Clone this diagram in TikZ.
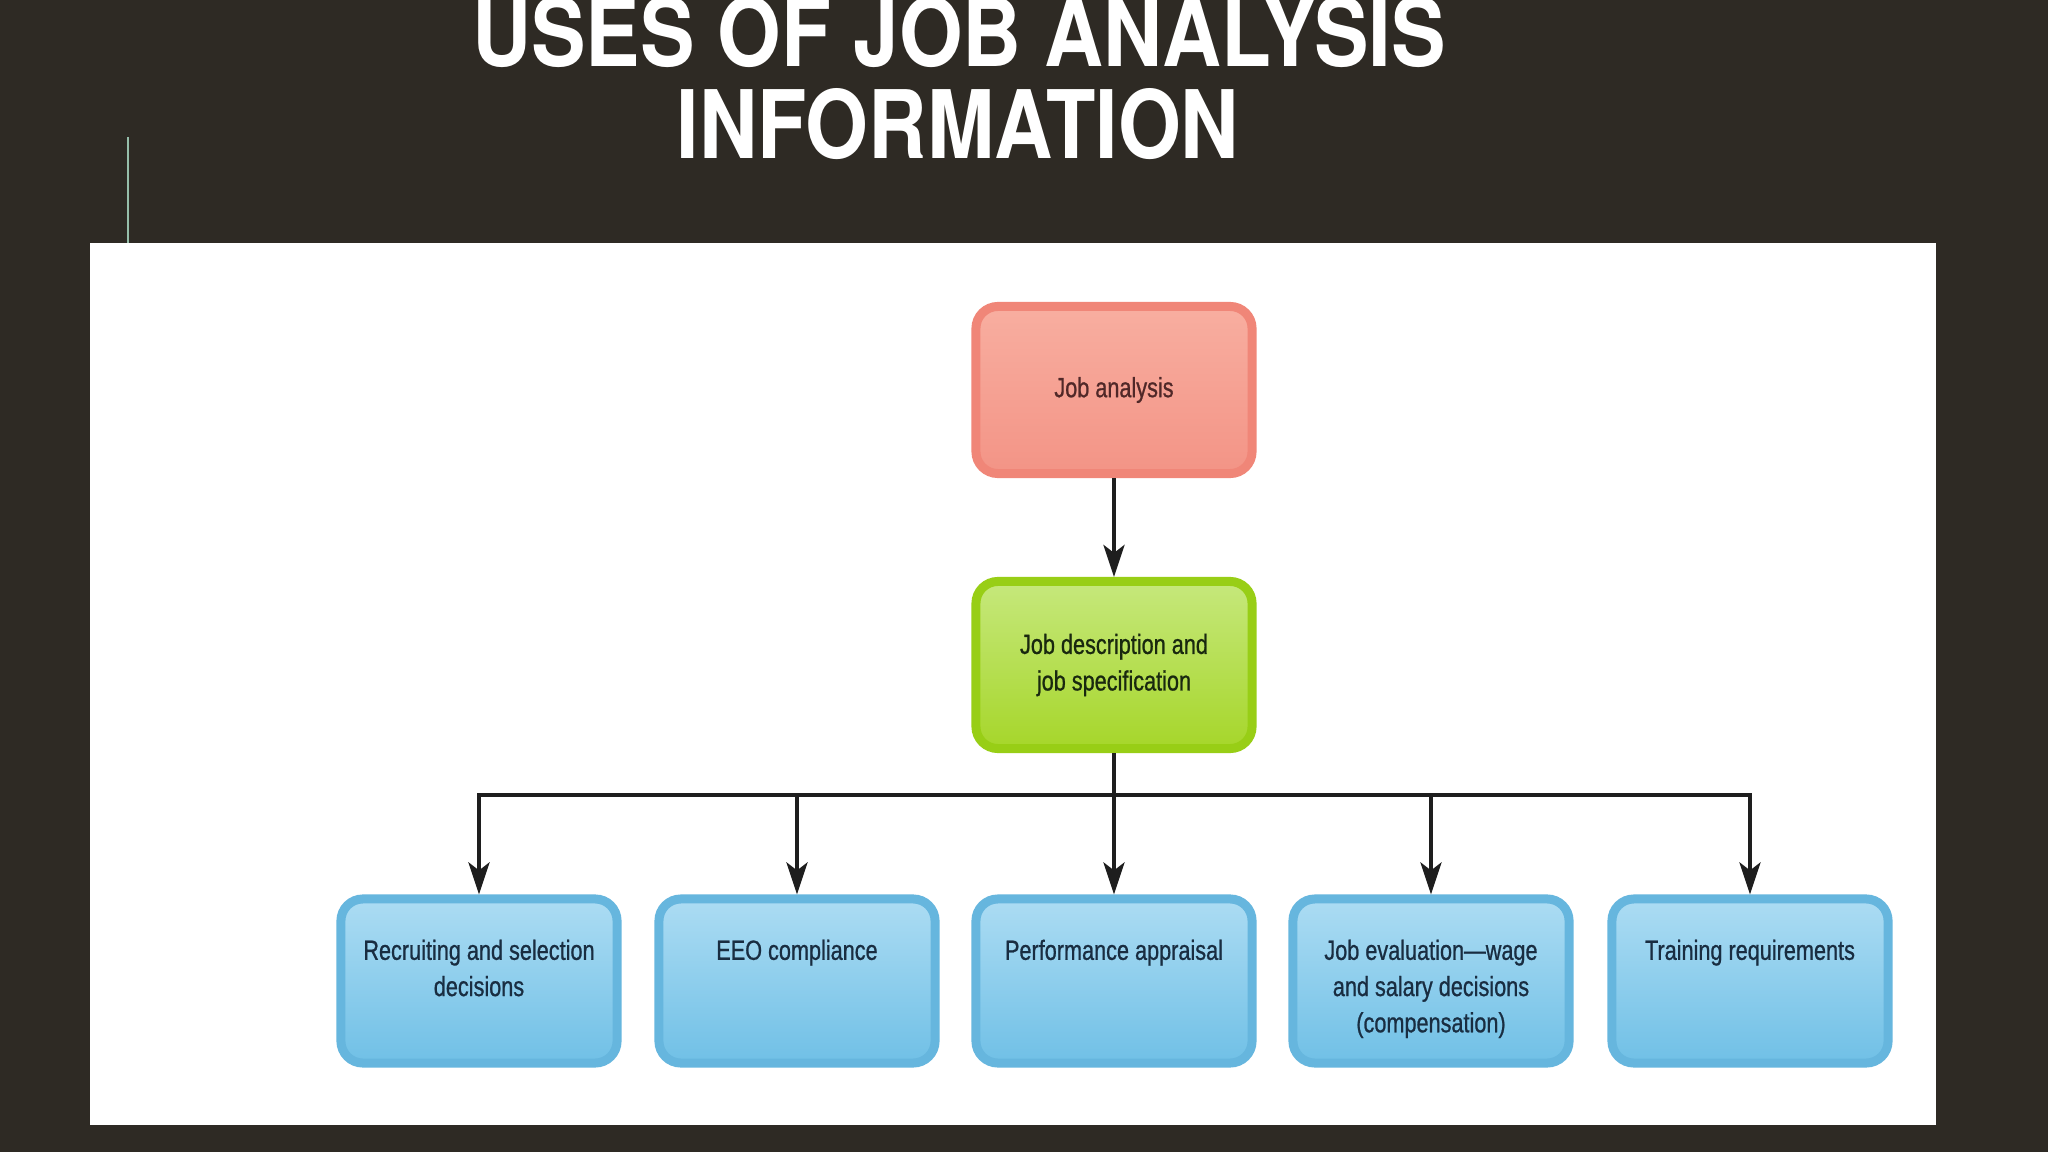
\documentclass[tikz,border=0pt]{standalone}
\usepackage{fontspec}
\setmainfont{Liberation Sans}
\newfontfamily\condfont[FakeStretch=0.78,FakeBold=0.8]{Liberation Sans}
\newfontfamily\titlefont{TeX Gyre Heros}
\usetikzlibrary{arrows.meta}
\definecolor{bg}{RGB}{46,42,36}
\definecolor{accent}{RGB}{150,190,170}
\definecolor{redO}{RGB}{240,134,120}
\definecolor{redT}{RGB}{248,174,160}
\definecolor{redB}{RGB}{243,148,134}
\definecolor{redTx}{RGB}{80,40,40}
\definecolor{grnO}{RGB}{152,206,22}
\definecolor{grnT}{RGB}{198,232,124}
\definecolor{grnB}{RGB}{166,214,42}
\definecolor{grnTx}{RGB}{25,40,15}
\definecolor{bluO}{RGB}{102,182,222}
\definecolor{bluT}{RGB}{172,220,243}
\definecolor{bluB}{RGB}{112,192,230}
\definecolor{bluTx}{RGB}{25,45,65}
\definecolor{arrowc}{RGB}{30,30,30}
\tikzset{
  boxbase/.style={rounded corners=0.22cm, line width=0.09cm, minimum width=2.76cm,
    inner sep=0pt, outer sep=0.045cm, align=center,
    font=\condfont\fontsize{7.9}{10.4}\selectfont},
  redbox/.style={boxbase, draw=redO, top color=redT, bottom color=redB, text=redTx, minimum height=1.67cm},
  grnbox/.style={boxbase, draw=grnO, top color=grnT, bottom color=grnB, text=grnTx, minimum height=1.67cm},
  blubox/.style={boxbase, draw=bluO, top color=bluT, bottom color=bluB, minimum height=1.64cm},
  btext/.style={inner sep=0pt, align=center, text=bluTx, font=\condfont\fontsize{7.9}{10.3}\selectfont},
  conn/.style={draw=arrowc, line width=0.04cm},
  arr/.style={conn, -{Stealth[length=0.32cm,width=0.21cm,inset=0.08cm]}},
}
\begin{document}
\begin{tikzpicture}[x=0.01cm,y=-0.01cm]
\useasboundingbox (0,0) rectangle (2048,1152);
\fill[bg] (0,0) rectangle (2048,1152);
\fill[white] (90,243) rectangle (1936,1125);
\draw[accent, line width=0.02cm] (128,137) -- (128,243);
\node[anchor=south, inner sep=0pt, text=white] (title1) at (959,68)
  {\resizebox{9.73cm}{0.70cm}{\titlefont\bfseries USES OF JOB ANALYSIS}};
\node[anchor=south, inner sep=0pt, text=white] (title2) at (958,160)
  {\resizebox{5.62cm}{0.70cm}{\titlefont\bfseries INFORMATION}};

\node[redbox] (ja) at (1114,390) {Job analysis};
\node[grnbox] (jd) at (1114,665) {Job description and\\job specification};

\node[blubox] (b1) at (479,981) {};
\node[blubox] (b2) at (797,981) {};
\node[blubox] (b3) at (1114,981) {};
\node[blubox] (b4) at (1431,981) {};
\node[blubox] (b5) at (1750,981) {};

\node[btext, anchor=north] (t1) at (479,939) {Recruiting and selection\\decisions};
\node[btext, anchor=north] (t2) at (797,939) {EEO compliance};
\node[btext, anchor=north] (t3) at (1114,939) {Performance appraisal};
\node[btext, anchor=north] (t4) at (1431,939) {Job evaluation—wage\\and salary decisions\\(compensation)};
\node[btext, anchor=north] (t5) at (1750,939) {Training requirements};

\coordinate (busy) at (0,795);
\coordinate (k1) at (b1.north |- busy);
\coordinate (k2) at (b2.north |- busy);
\coordinate (k4) at (b4.north |- busy);
\coordinate (k5) at (b5.north |- busy);

\draw[arr] (ja) -- (jd);
\draw[conn, line cap=rect] (k1) -- (k5);
\draw[arr] (jd) -- (b3);
\draw[arr] (k1) -- (b1);
\draw[arr] (k2) -- (b2);
\draw[arr] (k4) -- (b4);
\draw[arr] (k5) -- (b5);
\end{tikzpicture}
\end{document}
